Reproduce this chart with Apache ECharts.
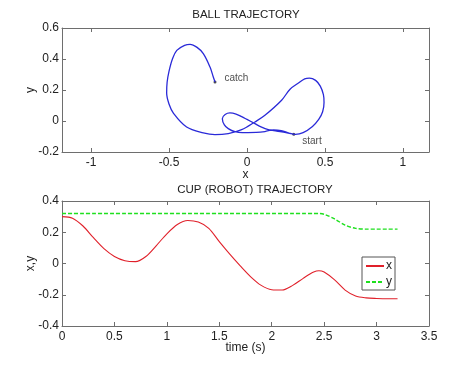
<!DOCTYPE html>
<html><head><meta charset="utf-8">
<script src="https://cdn.jsdelivr.net/npm/echarts@6/dist/echarts.min.js"></script>
<style>html,body{margin:0;padding:0;background:#fff}#c{width:474px;height:366px}</style>
</head><body><div id="c"></div>
<script>
// Ball trajectory (x, y) in path order, from "start" to "catch"
const ballX = [0.30,0.25,0.19,0.137,0.09,0.051,0.00,-0.034,-0.07,-0.109,-0.14,-0.158,-0.145,-0.12,-0.077,-0.03,0.008,0.06,0.115,0.169,0.22,0.27,0.31,0.36,0.42,0.46,0.485,0.494,0.49,0.47,0.44,0.40,0.37,0.33,0.276,0.222,0.115,0.051,-0.034,-0.12,-0.205,-0.28,-0.387,-0.47,-0.50,-0.515,-0.512,-0.50,-0.478,-0.45,-0.40,-0.365,-0.32,-0.28,-0.237,-0.216,-0.205];
const ballY = [-0.085,-0.075,-0.065,-0.056,-0.038,-0.017,0.010,0.028,0.045,0.052,0.042,0.015,-0.025,-0.049,-0.069,-0.075,-0.075,-0.074,-0.068,-0.057,-0.062,-0.078,-0.086,-0.075,-0.035,0.010,0.060,0.120,0.170,0.225,0.262,0.277,0.272,0.245,0.205,0.134,0.037,-0.006,-0.056,-0.081,-0.088,-0.077,-0.039,0.048,0.110,0.180,0.250,0.320,0.400,0.456,0.488,0.495,0.475,0.435,0.348,0.284,0.252];
const ballNotes = [{text:'catch', x:-0.205, y:0.252}, {text:'start', x:0.30, y:-0.085}];

// Cup (robot) trajectory
const cupTime = [0,0.1,0.2,0.3,0.4,0.5,0.6,0.7,0.8,0.9,1.0,1.1,1.2,1.3,1.4,1.5,1.6,1.7,1.8,1.9,2.0,2.1,2.2,2.3,2.4,2.45,2.5,2.6,2.7,2.8,2.9,3.0,3.1,3.2];
const cupX = [0.300,0.290,0.240,0.165,0.095,0.045,0.018,0.012,0.045,0.115,0.190,0.250,0.275,0.265,0.225,0.140,0.060,-0.015,-0.085,-0.140,-0.168,-0.170,-0.140,-0.095,-0.055,-0.046,-0.055,-0.105,-0.170,-0.208,-0.220,-0.224,-0.226,-0.226];
const cupY = [0.32,0.32,0.32,0.32,0.32,0.32,0.32,0.32,0.32,0.32,0.32,0.32,0.32,0.32,0.32,0.32,0.32,0.32,0.32,0.32,0.32,0.32,0.32,0.32,0.32,0.32,0.315,0.285,0.245,0.225,0.220,0.220,0.220,0.220];

const titles = ['BALL TRAJECTORY','CUP (ROBOT) TRAJECTORY'];
const ballXTicks = [-1,-0.5,0,0.5,1];

const AX = '#6e6e6e', TXT = '#222';
const FONT = 'Liberation Sans, Arial, sans-serif';
const fmt = v => (Math.abs(v) < 1e-9 ? '0' : String(+v.toFixed(2)));
function baseAxis(extra){
  return Object.assign({
    axisLine:{show:true,onZero:false,lineStyle:{color:AX,width:1}},
    axisTick:{show:true,inside:true,length:4,lineStyle:{color:AX}},
    splitLine:{show:false},
    nameMoveOverlap:false,
    axisLabel:{color:TXT,fontSize:12,fontFamily:FONT,formatter:fmt},
    nameTextStyle:{color:TXT,fontSize:12,fontFamily:FONT}
  }, extra);
}
function mirror(a){
  const m = JSON.parse(JSON.stringify(a));
  m.axisLabel = {show:false}; m.name = '';
  if (a.axisLabel && a.axisLabel.customValues) m.axisLabel.customValues = a.axisLabel.customValues;
  return m;
}

const topX = baseAxis({type:'value',gridIndex:0,min:-1.186,max:1.167,
  axisLabel:{color:TXT,fontSize:12,fontFamily:FONT,formatter:fmt,customValues:ballXTicks,margin:5},
  axisTick:{show:true,inside:true,length:4,lineStyle:{color:AX},customValues:ballXTicks},
  name:'x',nameLocation:'middle',nameGap:17});
const topY = baseAxis({type:'value',gridIndex:0,min:-0.2,max:0.6,interval:0.2,
  name:'y',nameLocation:'middle',nameGap:25});
const botX = baseAxis({type:'value',gridIndex:1,min:0,max:3.5,interval:0.5,
  name:'time (s)',nameLocation:'middle',nameGap:16});
const botY = baseAxis({type:'value',gridIndex:1,min:-0.4,max:0.4,interval:0.2,
  name:'x,y',nameLocation:'middle',nameGap:25});
topY.axisLabel.margin = 3; botY.axisLabel.margin = 3;
botX.axisLabel.margin = 5;

const topX2 = Object.assign(mirror(topX),{position:'top'});
const topY2 = Object.assign(mirror(topY),{position:'right'});
const botX2 = Object.assign(mirror(botX),{position:'top'});
const botY2 = Object.assign(mirror(botY),{position:'right'});

const chart = echarts.init(document.getElementById('c'),null,{renderer:'canvas'});
chart.setOption({
  animation:false,
  backgroundColor:'#fff',
  title:[
    {text:titles[0],left:241,top:4,textAlign:'center',textStyle:{fontSize:11.5,fontWeight:'normal',color:TXT,fontFamily:FONT}},
    {text:titles[1],left:250,top:179,textAlign:'center',textStyle:{fontSize:11.5,fontWeight:'normal',color:TXT,fontFamily:FONT}}
  ],
  grid:[
    {left:62,top:28,width:367,height:124},
    {left:62,top:201,width:367,height:125}
  ],
  xAxis:[topX,botX,topX2,botX2].map((a,i)=>Object.assign(a,{gridIndex:i%2})),
  yAxis:[topY,botY,topY2,botY2].map((a,i)=>Object.assign(a,{gridIndex:i%2})),
  legend:{
    data:['x','y'],orient:'vertical',left:362,top:257,
    backgroundColor:'#fff',borderColor:'#555',borderWidth:1,padding:[3,3,2,3],
    itemWidth:18,itemHeight:8,itemGap:4,
    itemStyle:{opacity:0},
    textStyle:{color:TXT,fontSize:12,fontFamily:FONT,padding:[0,0,0,-3]}
  },
  series:[
    {name:'ball',type:'line',xAxisIndex:0,yAxisIndex:0,smooth:0.35,showSymbol:false,symbol:'none',
     lineStyle:{color:'#2a2ad8',width:1.3},
     data:ballX.map((x,i)=>[x,ballY[i]])},
    {name:'notes',type:'scatter',xAxisIndex:0,yAxisIndex:0,symbolSize:3,
     itemStyle:{color:'#222'},
     label:{show:true,color:TXT,fontSize:10,fontFamily:FONT,position:'right',
       formatter:p=>ballNotes[p.dataIndex].text},
     data:[
       {value:[ballNotes[0].x,ballNotes[0].y],label:{offset:[3,-4]}},
       {value:[ballNotes[1].x,ballNotes[1].y],label:{offset:[2,7]}}
     ]},
    {name:'x',type:'line',xAxisIndex:1,yAxisIndex:1,smooth:0.3,showSymbol:false,symbol:'none',
     lineStyle:{color:'#e0202a',width:1.1},itemStyle:{color:'#e0202a'},
     data:cupTime.map((t,i)=>[t,cupX[i]])},
    {name:'y',type:'line',xAxisIndex:1,yAxisIndex:1,smooth:0.3,showSymbol:false,symbol:'none',
     lineStyle:{color:'#1ee01e',width:1.4,type:[4,2]},itemStyle:{color:'#1ee01e'},
     data:cupTime.map((t,i)=>[t,cupY[i]])}
  ]
});
</script></body></html>
